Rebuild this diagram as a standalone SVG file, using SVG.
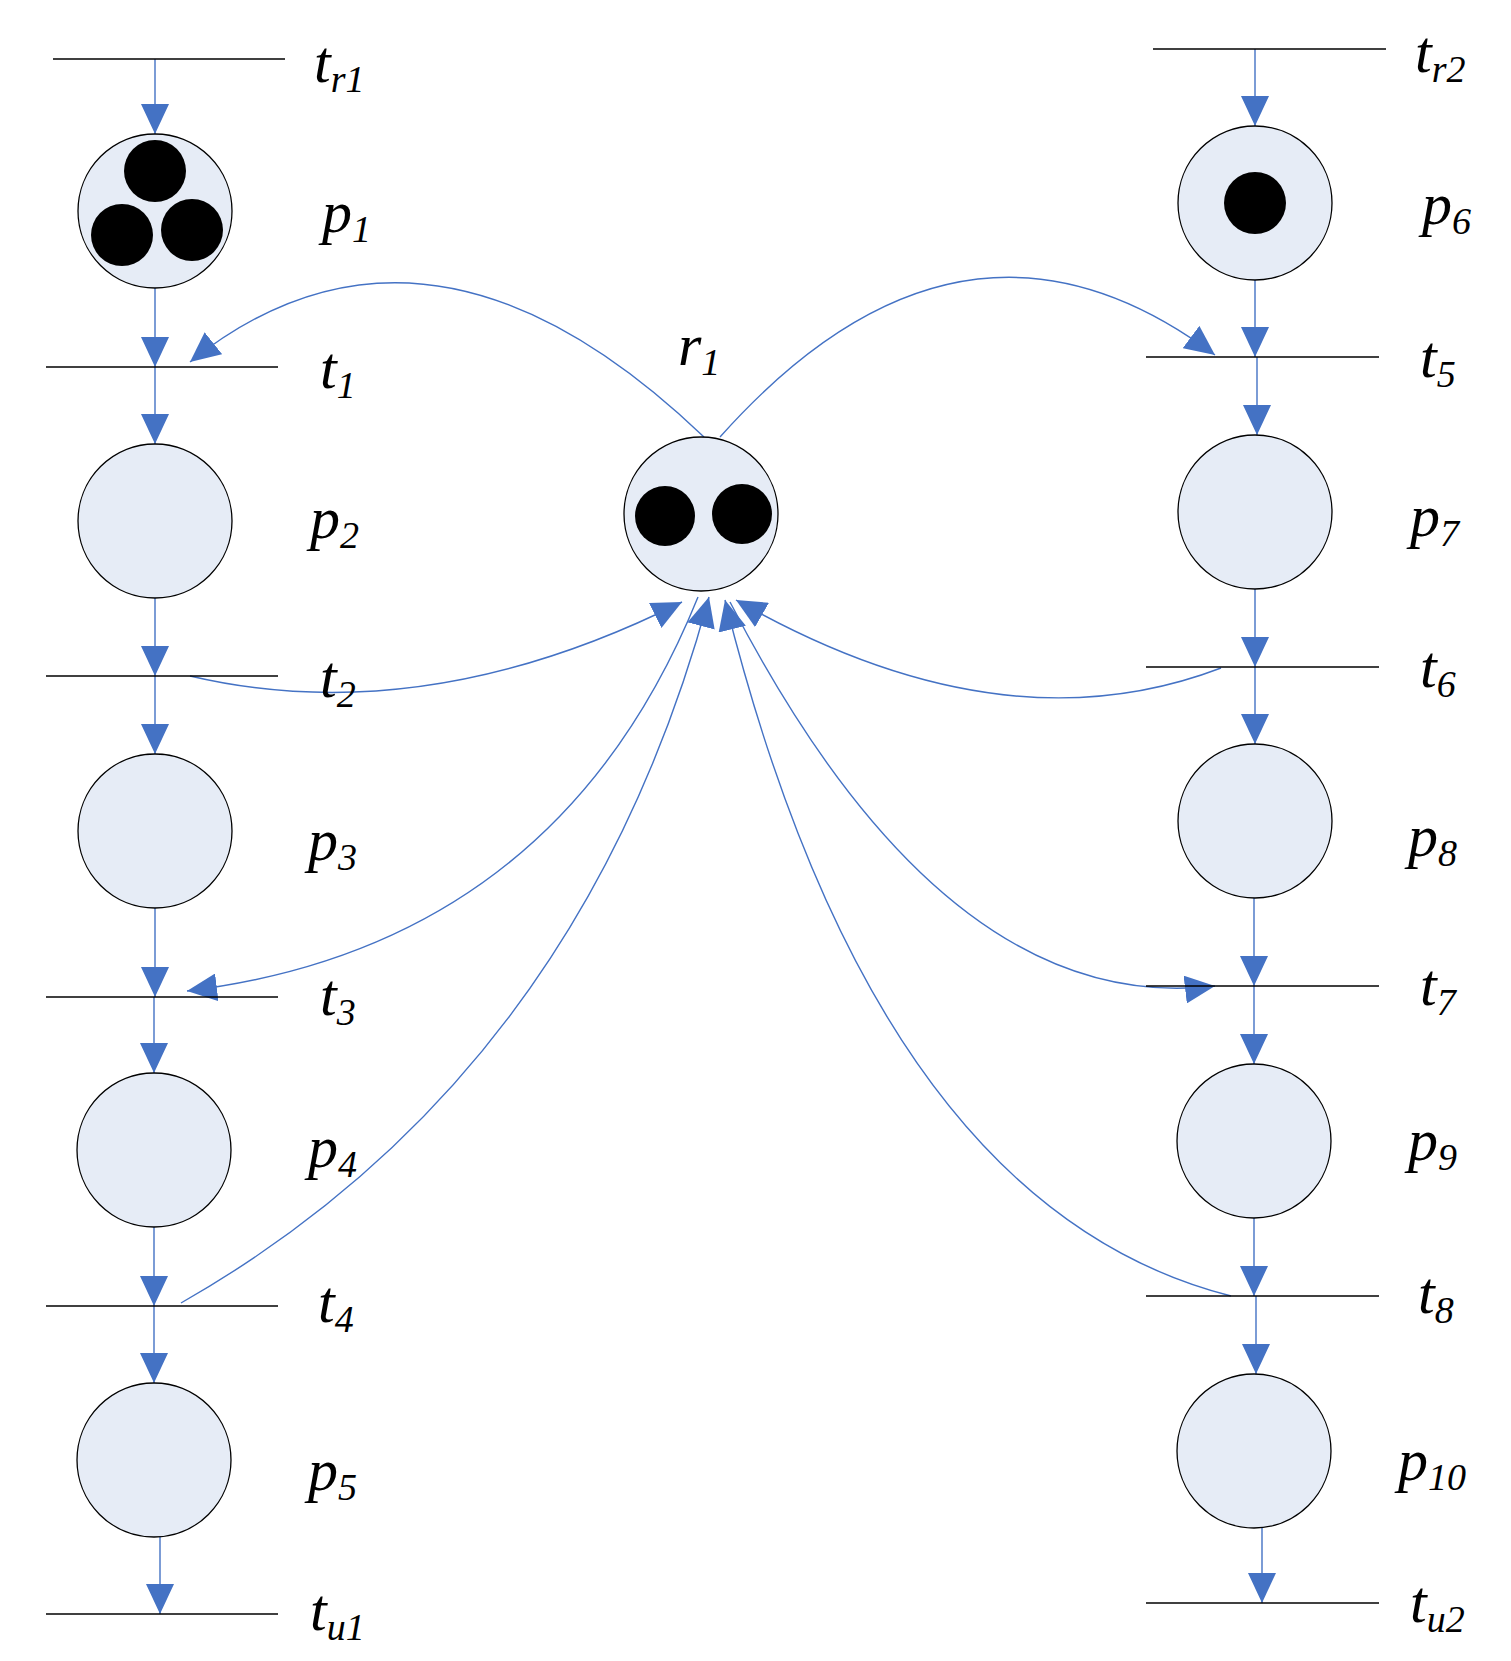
<svg xmlns="http://www.w3.org/2000/svg" width="1511" height="1661" viewBox="0 0 1511 1661">
<style>
.pl{fill:#E6ECF6;stroke:#000;stroke-width:1.3}
.tk{fill:#000}
.tr{stroke:#000;stroke-width:1.5}
.a{fill:none;stroke:#4472C4;stroke-width:1.4;marker-end:url(#ah)}
.lb{font-family:"Liberation Serif",serif;font-style:italic;font-size:60px;fill:#000}
.sb{font-size:38px}
</style>
<defs><marker id="ah" markerUnits="userSpaceOnUse" markerWidth="32" markerHeight="28" refX="30" refY="14" orient="auto"><path d="M0,0L30,14L0,28Z" fill="#4472C4"/></marker></defs>
<rect width="1511" height="1661" fill="#fff"/>
<g id="connectors">
<path class="a" d="M155,59V134"/><path class="a" d="M155,288V367"/><path class="a" d="M155,367V444"/><path class="a" d="M155,598V676"/><path class="a" d="M155,676V754"/><path class="a" d="M155,908V997"/><path class="a" d="M154,997V1073"/><path class="a" d="M154,1227V1306"/><path class="a" d="M154,1306V1383"/><path class="a" d="M160,1537V1614"/>
<path class="a" d="M1255,49V126"/><path class="a" d="M1255,280V357"/><path class="a" d="M1257,357V435"/><path class="a" d="M1255,589V667"/><path class="a" d="M1255,667V744"/><path class="a" d="M1254,898V986"/><path class="a" d="M1254,986V1064"/><path class="a" d="M1254,1218V1296"/><path class="a" d="M1256,1296V1374"/><path class="a" d="M1262,1528V1603"/>
<path class="a" d="M704,437Q427,172 190,362"/>
<path class="a" d="M720,437Q962,166 1215,355"/>
<path class="a" d="M190,676Q424,731 682,602"/>
<path class="a" d="M698,597Q557,946 187,991"/>
<path class="a" d="M181,1303Q579,1076 709,597"/>
<path class="a" d="M1221,668Q1001,752 736,600"/>
<path class="a" d="M730,602Q945,1018 1215,986"/>
<path class="a" d="M1231,1296Q876,1206 725,600"/>
</g>
<g id="tr1"><line class="tr" x1="53" y1="59" x2="285" y2="59"/><text class="lb" x="314" y="82">t<tspan class="sb" dy="10">r1</tspan></text></g>
<g id="t1"><line class="tr" x1="46" y1="367" x2="278" y2="367"/><text class="lb" x="320" y="388">t<tspan class="sb" dy="10">1</tspan></text></g>
<g id="t2"><line class="tr" x1="46" y1="676" x2="278" y2="676"/><text class="lb" x="320" y="697">t<tspan class="sb" dy="10">2</tspan></text></g>
<g id="t3"><line class="tr" x1="46" y1="997" x2="278" y2="997"/><text class="lb" x="320" y="1015">t<tspan class="sb" dy="10">3</tspan></text></g>
<g id="t4"><line class="tr" x1="46" y1="1306" x2="278" y2="1306"/><text class="lb" x="318" y="1322">t<tspan class="sb" dy="10">4</tspan></text></g>
<g id="tu1"><line class="tr" x1="46" y1="1614" x2="278" y2="1614"/><text class="lb" x="310" y="1630">t<tspan class="sb" dy="10">u1</tspan></text></g>
<g id="tr2"><line class="tr" x1="1153" y1="49" x2="1386" y2="49"/><text class="lb" x="1415" y="72">t<tspan class="sb" dy="10">r2</tspan></text></g>
<g id="t5"><line class="tr" x1="1146" y1="357" x2="1379" y2="357"/><text class="lb" x="1420" y="377">t<tspan class="sb" dy="10">5</tspan></text></g>
<g id="t6"><line class="tr" x1="1146" y1="667" x2="1379" y2="667"/><text class="lb" x="1420" y="687">t<tspan class="sb" dy="10">6</tspan></text></g>
<g id="t7"><line class="tr" x1="1146" y1="986" x2="1379" y2="986"/><text class="lb" x="1420" y="1005">t<tspan class="sb" dy="10">7</tspan></text></g>
<g id="t8"><line class="tr" x1="1146" y1="1296" x2="1379" y2="1296"/><text class="lb" x="1418" y="1313">t<tspan class="sb" dy="10">8</tspan></text></g>
<g id="tu2"><line class="tr" x1="1146" y1="1603" x2="1379" y2="1603"/><text class="lb" x="1410" y="1622">t<tspan class="sb" dy="10">u2</tspan></text></g>
<g id="p1"><circle class="pl" cx="155" cy="211" r="77"/><circle class="tk" cx="155" cy="171" r="31"/><circle class="tk" cx="122" cy="235" r="31"/><circle class="tk" cx="192" cy="230" r="31"/><text class="lb" x="322" y="232">p<tspan class="sb" dy="10">1</tspan></text></g>
<g id="p2"><circle class="pl" cx="155" cy="521" r="77"/><text class="lb" x="310" y="538">p<tspan class="sb" dy="10">2</tspan></text></g>
<g id="p3"><circle class="pl" cx="155" cy="831" r="77"/><text class="lb" x="308" y="860">p<tspan class="sb" dy="10">3</tspan></text></g>
<g id="p4"><circle class="pl" cx="154" cy="1150" r="77"/><text class="lb" x="308" y="1167">p<tspan class="sb" dy="10">4</tspan></text></g>
<g id="p5"><circle class="pl" cx="154" cy="1460" r="77"/><text class="lb" x="308" y="1490">p<tspan class="sb" dy="10">5</tspan></text></g>
<g id="p6"><circle class="pl" cx="1255" cy="203" r="77"/><circle class="tk" cx="1255" cy="203" r="31"/><text class="lb" x="1422" y="224">p<tspan class="sb" dy="10">6</tspan></text></g>
<g id="p7"><circle class="pl" cx="1255" cy="512" r="77"/><text class="lb" x="1410" y="536">p<tspan class="sb" dy="10">7</tspan></text></g>
<g id="p8"><circle class="pl" cx="1255" cy="821" r="77"/><text class="lb" x="1408" y="856">p<tspan class="sb" dy="10">8</tspan></text></g>
<g id="p9"><circle class="pl" cx="1254" cy="1141" r="77"/><text class="lb" x="1408" y="1160">p<tspan class="sb" dy="10">9</tspan></text></g>
<g id="p10"><circle class="pl" cx="1254" cy="1451" r="77"/><text class="lb" x="1398" y="1480">p<tspan class="sb" dy="10">10</tspan></text></g>
<g id="r1"><circle class="pl" cx="701" cy="514" r="77"/><circle class="tk" cx="665" cy="516" r="30"/><circle class="tk" cx="742" cy="514" r="30"/><text class="lb" x="678" y="365">r<tspan class="sb" dy="10">1</tspan></text></g>
</svg>
